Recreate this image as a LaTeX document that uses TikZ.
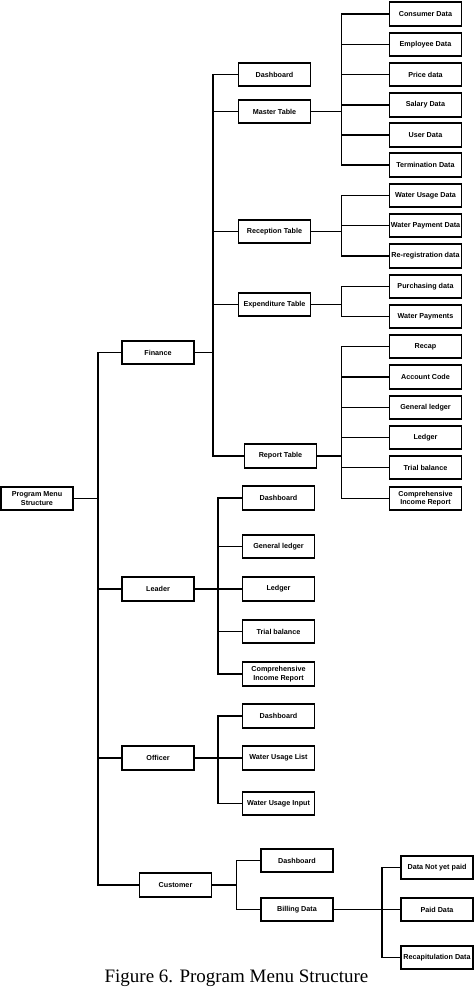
\documentclass[tikz,border=0pt]{standalone}
\usepackage{fontspec}
\setmainfont{Liberation Serif}
\setsansfont{Liberation Sans}
\usepackage{tikz}

\tikzset{
	menubox/.style={draw, line width=1.6pt, minimum width=72pt, minimum height=23.5pt,
		inner sep=1pt, align=center, font=\sffamily\bfseries\fontsize{7.2}{8.6}\selectfont},
	link/.style={line width=1.6pt}
}

\begin{document}
\begin{tikzpicture}[x=1pt,y=-1pt]
		\useasboundingbox (0,0) rectangle (474,987);
		
		% root and first level
		\node [menubox] (root) at (37,498.5) {Program Menu\\Structure};
		\node [menubox] (fin) at (158,352.5) {Finance};
		\node [menubox] (lead) at (158,589) {Leader};
		\node [menubox] (off) at (158,758) {Officer};
		\node [menubox] (cust) at (175.5,885) {Customer};
		
		% finance
		\node [menubox] (findash) at (274.5,74.5) {Dashboard};
		\node [menubox] (master) at (274.5,111.5) {Master Table};
		\node [menubox] (recep) at (274.5,231.5) {Reception Table};
		\node [menubox] (expend) at (274.5,304.5) {Expenditure Table};
		\node [menubox] (report) at (280.5,456) {Report Table};
		
		% master table
		\node [menubox] (consum) at (425.5,14) {Consumer Data};
		\node [menubox] (employ) at (425.5,44.5) {Employee Data};
		\node [menubox] (price) at (425.5,74.5) {Price data};
		\node [menubox] (salary) at (425.5,105) {Salary Data};
		\node [menubox] (user) at (425.5,135) {User Data};
		\node [menubox] (termin) at (425.5,165) {Termination Data};
		
		% reception table
		\node [menubox] (usage) at (425.5,195.5) {Water Usage Data};
		\node [menubox] (payment) at (425.5,225.5) {Water Payment Data};
		\node [menubox] (rereg) at (425.5,256) {Re-registration data};
		
		% expenditure table
		\node [menubox] (purch) at (425.5,286.5) {Purchasing data};
		\node [menubox] (wpay) at (425.5,316.5) {Water Payments};
		
		% report table
		\node [menubox] (recap) at (425.5,346.5) {Recap};
		\node [menubox] (account) at (425.5,377) {Account Code};
		\node [menubox] (genled) at (425.5,407.5) {General ledger};
		\node [menubox] (ledger) at (425.5,437.5) {Ledger};
		\node [menubox] (trial) at (425.5,467.5) {Trial balance};
		\node [menubox] (income) at (425.5,498.5) {Comprehensive\\Income Report};
		
		% leader
		\node [menubox] (leaddash) at (278.5,498) {Dashboard};
		\node [menubox] (leadgen) at (278.5,546.5) {General ledger};
		\node [menubox] (leadled) at (278.5,589) {Ledger};
		\node [menubox] (leadtrial) at (278.5,631.5) {Trial balance};
		\node [menubox] (leadinc) at (278.5,674) {Comprehensive\\Income Report};
		
		% officer
		\node [menubox] (offdash) at (278.5,716) {Dashboard};
		\node [menubox] (offlist) at (278.5,758) {Water Usage List};
		\node [menubox] (offinput) at (278.5,803.5) {Water Usage Input};
		
		% customer
		\node [menubox] (custdash) at (297,860.5) {Dashboard};
		\node [menubox] (billing) at (297,909.5) {Billing Data};
		\node [menubox] (notpaid) at (437,867.5) {Data Not yet paid};
		\node [menubox] (paid) at (437,909.5) {Paid Data};
		\node [menubox] (recapdata) at (437,957.5) {Recapitulation Data};
		
		% connectors
		\draw [link] (root.east) -- ++(24,0) |- (fin.west);
		\draw [link] (root.east) -- ++(24,0) |- (lead.west);
		\draw [link] (root.east) -- ++(24,0) |- (off.west);
		\draw [link] (root.east) -- ++(24,0) |- (cust.west);
		
		\draw [link] (fin.east) -- ++(18,0) |- (findash.west);
		\draw [link] (fin.east) -- ++(18,0) |- (master.west);
		\draw [link] (fin.east) -- ++(18,0) |- (recep.west);
		\draw [link] (fin.east) -- ++(18,0) |- (expend.west);
		\draw [link] (fin.east) -- ++(18,0) |- (report.west);
		
		\draw [link] (master.east) -- ++(30,0) |- (consum.west);
		\draw [link] (master.east) -- ++(30,0) |- (employ.west);
		\draw [link] (master.east) -- ++(30,0) |- (price.west);
		\draw [link] (master.east) -- ++(30,0) |- (salary.west);
		\draw [link] (master.east) -- ++(30,0) |- (user.west);
		\draw [link] (master.east) -- ++(30,0) |- (termin.west);
		
		\draw [link] (recep.east) -- ++(30,0) |- (usage.west);
		\draw [link] (recep.east) -- ++(30,0) |- (payment.west);
		\draw [link] (recep.east) -- ++(30,0) |- (rereg.west);
		
		\draw [link] (expend.east) -- ++(30,0) |- (purch.west);
		\draw [link] (expend.east) -- ++(30,0) |- (wpay.west);
		
		\draw [link] (report.east) -- ++(24,0) |- (recap.west);
		\draw [link] (report.east) -- ++(24,0) |- (account.west);
		\draw [link] (report.east) -- ++(24,0) |- (genled.west);
		\draw [link] (report.east) -- ++(24,0) |- (ledger.west);
		\draw [link] (report.east) -- ++(24,0) |- (trial.west);
		\draw [link] (report.east) -- ++(24,0) |- (income.west);
		
		\draw [link] (lead.east) -- ++(23,0) |- (leaddash.west);
		\draw [link] (lead.east) -- ++(23,0) |- (leadgen.west);
		\draw [link] (lead.east) -- ++(23,0) |- (leadled.west);
		\draw [link] (lead.east) -- ++(23,0) |- (leadtrial.west);
		\draw [link] (lead.east) -- ++(23,0) |- (leadinc.west);
		
		\draw [link] (off.east) -- ++(23,0) |- (offdash.west);
		\draw [link] (off.east) -- ++(23,0) |- (offlist.west);
		\draw [link] (off.east) -- ++(23,0) |- (offinput.west);
		
		\draw [link] (cust.east) -- ++(24,0) |- (custdash.west);
		\draw [link] (cust.east) -- ++(24,0) |- (billing.west);
		
		\draw [link] (billing.east) -- ++(48,0) |- (notpaid.west);
		\draw [link] (billing.east) -- ++(48,0) |- (paid.west);
		\draw [link] (billing.east) -- ++(48,0) |- (recapdata.west);
		
		% caption
		\node [anchor=base, font=\fontsize{19}{23}\selectfont, inner sep=0pt] (caption) at (236.5,982) {Figure 6. Program Menu Structure};
\end{tikzpicture}
\end{document}
